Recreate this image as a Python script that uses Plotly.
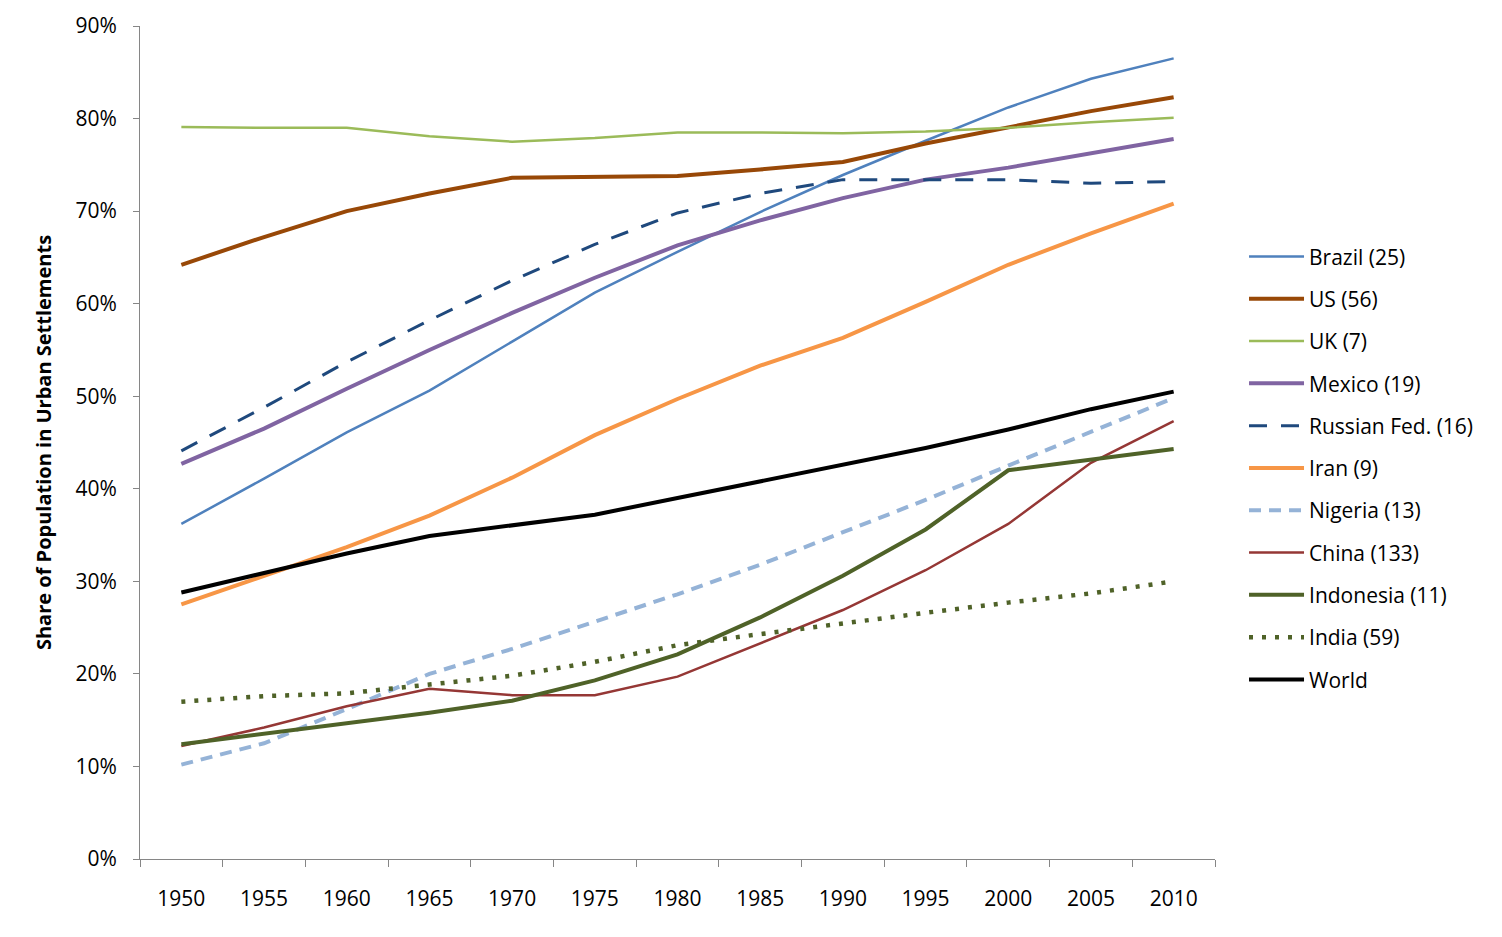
import plotly.graph_objects as go

years = ["1950", "1955", "1960", "1965", "1970", "1975", "1980",
         "1985", "1990", "1995", "2000", "2005", "2010"]

brazil = [36.2, 41.1, 46.1, 50.6, 55.9, 61.2, 65.6, 69.9, 73.9, 77.6, 81.2, 84.3, 86.5]
us = [64.2, 67.2, 70.0, 71.9, 73.6, 73.7, 73.8, 74.5, 75.3, 77.3, 79.1, 80.8, 82.3]
uk = [79.1, 79.0, 79.0, 78.1, 77.5, 77.9, 78.5, 78.5, 78.4, 78.6, 79.0, 79.6, 80.1]
mexico = [42.7, 46.5, 50.8, 55.0, 59.0, 62.8, 66.3, 69.0, 71.4, 73.4, 74.7, 76.3, 77.8]
russia = [44.1, 48.8, 53.7, 58.2, 62.5, 66.4, 69.8, 71.9, 73.4, 73.4, 73.4, 73.0, 73.2]
iran = [27.5, 30.6, 33.7, 37.1, 41.2, 45.8, 49.7, 53.3, 56.3, 60.2, 64.2, 67.6, 70.8]
nigeria = [10.2, 12.5, 16.2, 20.0, 22.7, 25.6, 28.6, 31.8, 35.3, 38.8, 42.5, 46.2, 49.8]
china = [12.2, 14.2, 16.5, 18.4, 17.7, 17.7, 19.7, 23.3, 26.9, 31.2, 36.2, 42.8, 47.3]
indonesia = [12.4, 13.5, 14.6, 15.8, 17.1, 19.3, 22.1, 26.1, 30.6, 35.6, 42.0, 43.1, 44.3]
india = [17.0, 17.6, 17.9, 18.8, 19.8, 21.3, 23.1, 24.3, 25.5, 26.6, 27.7, 28.7, 30.0]
world = [28.8, 30.9, 33.0, 34.9, 36.0, 37.2, 39.0, 40.8, 42.6, 44.4, 46.4, 48.6, 50.5]

# name, values, colour, width, dash
series = [
    ("Brazil (25)", brazil, "#4F81BD", 2.5, "solid"),
    ("US (56)", us, "#984807", 4, "solid"),
    ("UK (7)", uk, "#9BBB59", 2.5, "solid"),
    ("Mexico (19)", mexico, "#8064A2", 4, "solid"),
    ("Russian Fed. (16)", russia, "#1F497D", 3, "18px,14px"),
    ("Iran (9)", iran, "#F79646", 4, "solid"),
    ("Nigeria (13)", nigeria, "#95B3D7", 4, "12px,8px"),
    ("China (133)", china, "#953735", 2.5, "solid"),
    ("Indonesia (11)", indonesia, "#4F6228", 4, "solid"),
    ("India (59)", india, "#4F6228", 4.5, "4px,9px"),
    ("World", world, "#000000", 4, "solid"),
]

fig = go.Figure()
for i, (name, vals, color, width, dash) in enumerate(series):
    fig.add_trace(go.Scatter(
        x=years,
        y=[v / 100 for v in vals],
        name=name,
        mode="lines",
        line=dict(color=color, width=width, dash=dash),
        legendgroup="g%d" % i,
    ))

# page has an 8px body margin, so margins are offset by that
fig.update_layout(
    width=1502,
    height=937,
    margin=dict(l=132, r=295, t=18, b=86, autoexpand=False),
    plot_bgcolor="white",
    paper_bgcolor="white",
    font=dict(family="Open Sans, sans-serif", size=21, color="#000000"),
    showlegend=True,
    legend=dict(
        x=1.027,
        y=0.469,
        xanchor="left",
        yanchor="middle",
        tracegroupgap=12,
        itemwidth=55,
        font=dict(size=21),
    ),
)
fig.update_xaxes(
    type="category",
    tickson="boundaries",
    ticks="outside",
    ticklen=7,
    tickcolor="#868686",
    showline=True,
    linecolor="#868686",
    linewidth=1,
    showgrid=False,
    range=[-0.5, 12.5],
    ticklabelstandoff=21,
    automargin=False,
    tickfont=dict(size=21),
)
fig.update_yaxes(
    range=[0, 0.9],
    dtick=0.1,
    tickformat=".0%",
    ticks="outside",
    ticklen=6,
    tickcolor="#868686",
    showline=True,
    linecolor="#868686",
    linewidth=1,
    showgrid=False,
    zeroline=False,
    ticklabelstandoff=12,
    automargin=False,
    tickfont=dict(size=21),
    title=dict(text="<b>Share of Population in Urban Settlements</b>",
               font=dict(size=20), standoff=18),
)

fig.write_html("out.html")
